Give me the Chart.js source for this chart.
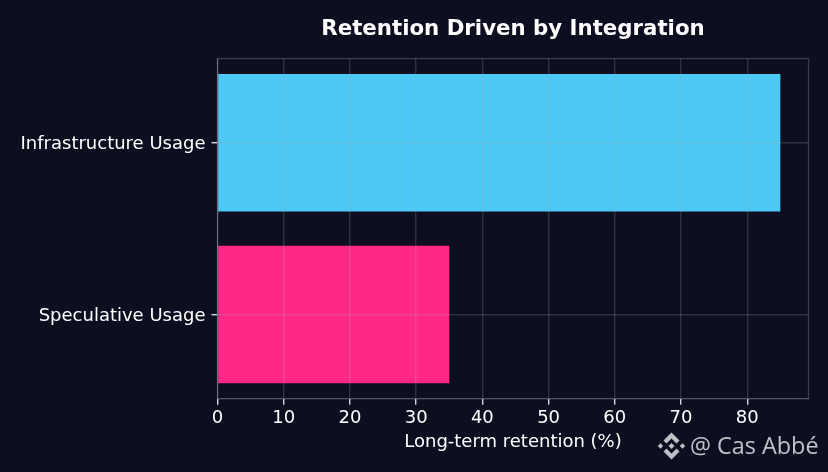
<!DOCTYPE html>
<html>
<head>
<meta charset="utf-8">
<script src="https://cdn.jsdelivr.net/npm/chart.js@4"></script>
<style>
html, body { margin: 0; padding: 0; background: #0d0e20; }
canvas { display: block; }
</style>
</head>
<body>
<canvas id="chart" width="828" height="472"></canvas>
<script>
var categories = ["Speculative Usage", "Infrastructure Usage"];
var retention = [35, 85];
var barColors = ["#ff2888", "#4cc9f4"];
var xTicks = [0, 10, 20, 30, 40, 50, 60, 70, 80];
var titleText = "Retention Driven by Integration";
var xTitle = "Long-term retention (%)";
var watermark = "@ Cas Abbé";

var font = "'DejaVu Sans'";
var gridColor = "rgba(165,165,178,0.23)";
var spineColor = "rgba(190,190,200,0.25)";

function poly(ctx, cx, cy, pts) {
    ctx.beginPath();
    pts.forEach(function (p, i) {
        if (i == 0) ctx.moveTo(cx + p[0], cy + p[1]);
        else ctx.lineTo(cx + p[0], cy + p[1]);
    });
    ctx.closePath();
    ctx.fill();
}

// spines on all four sides, plus the watermark in the corner
var frame = {
    id: "frame",
    afterDraw: function (chart) {
        var ctx = chart.ctx;
        var a = chart.chartArea;
        ctx.save();
        ctx.strokeStyle = spineColor;
        ctx.lineWidth = 1.3;
        ctx.strokeRect(a.left, a.top, a.right - a.left, a.bottom - a.top);

        ctx.fillStyle = "rgba(225,225,230,0.85)";
        ctx.font = "23.4px 'Open Sans'";
        ctx.textBaseline = "alphabetic";
        ctx.fillText(watermark, 690, 454);

        // binance logo
        var cx = 671.5, cy = 446;
        poly(ctx, cx, cy, [[0, -13.5], [8, -5.5], [5, -2.5], [0, -7.5], [-5, -2.5], [-8, -5.5]]);
        poly(ctx, cx, cy, [[0, 13.5], [8, 5.5], [5, 2.5], [0, 7.5], [-5, 2.5], [-8, 5.5]]);
        poly(ctx, cx, cy, [[0, -3], [3, 0], [0, 3], [-3, 0]]);
        poly(ctx, cx, cy, [[-11, -2.7], [-8.3, 0], [-11, 2.7], [-13.7, 0]]);
        poly(ctx, cx, cy, [[11, -2.7], [13.7, 0], [11, 2.7], [8.3, 0]]);
        ctx.restore();
    }
};

new Chart(document.getElementById("chart"), {
    type: "bar",
    data: {
        datasets: [{
            data: retention.map(function (v, i) { return { x: v, y: i }; }),
            backgroundColor: barColors,
            borderWidth: 0,
            barPercentage: 0.8,
            categoryPercentage: 1
        }]
    },
    options: {
        indexAxis: "y",
        responsive: false,
        animation: false,
        layout: { padding: { top: 0, right: 19.5, bottom: 19, left: 0 } },
        plugins: {
            legend: { display: false },
            tooltip: { enabled: false },
            title: {
                display: true,
                text: titleText,
                color: "#ffffff",
                fullSize: false,
                font: { family: font, size: 21.3, weight: "bold" },
                padding: { top: 17, bottom: 16 }
            }
        },
        scales: {
            x: {
                type: "linear",
                min: 0,
                max: 89.25,
                afterBuildTicks: function (scale) {
                    scale.ticks = xTicks.map(function (v) { return { value: v }; });
                },
                grid: { color: gridColor, lineWidth: 1.4, z: 1, tickColor: "#d8d8de", tickLength: 6 },
                border: { color: spineColor, z: 1 },
                ticks: { color: "#ffffff", font: { family: font, size: 18 }, padding: 3, maxRotation: 0 },
                title: {
                    display: true,
                    text: xTitle,
                    color: "#ffffff",
                    font: { family: font, size: 18 },
                    padding: { top: -1, bottom: 0 }
                }
            },
            y: {
                type: "linear",
                min: -0.49,
                max: 1.49,
                offset: false,
                afterBuildTicks: function (scale) {
                    scale.ticks = categories.map(function (c, i) { return { value: i }; });
                },
                afterFit: function (scale) { scale.width = 217.5; },
                grid: { color: gridColor, lineWidth: 1.4, z: 1, offset: false, tickColor: "#d8d8de", tickLength: 6 },
                border: { color: spineColor, z: 1 },
                ticks: {
                    color: "#ffffff",
                    font: { family: font, size: 18 },
                    padding: 6,
                    labelOffset: 1.5,
                    callback: function (v) { return categories[v]; }
                }
            }
        }
    },
    plugins: [frame]
});
</script>
</body>
</html>
